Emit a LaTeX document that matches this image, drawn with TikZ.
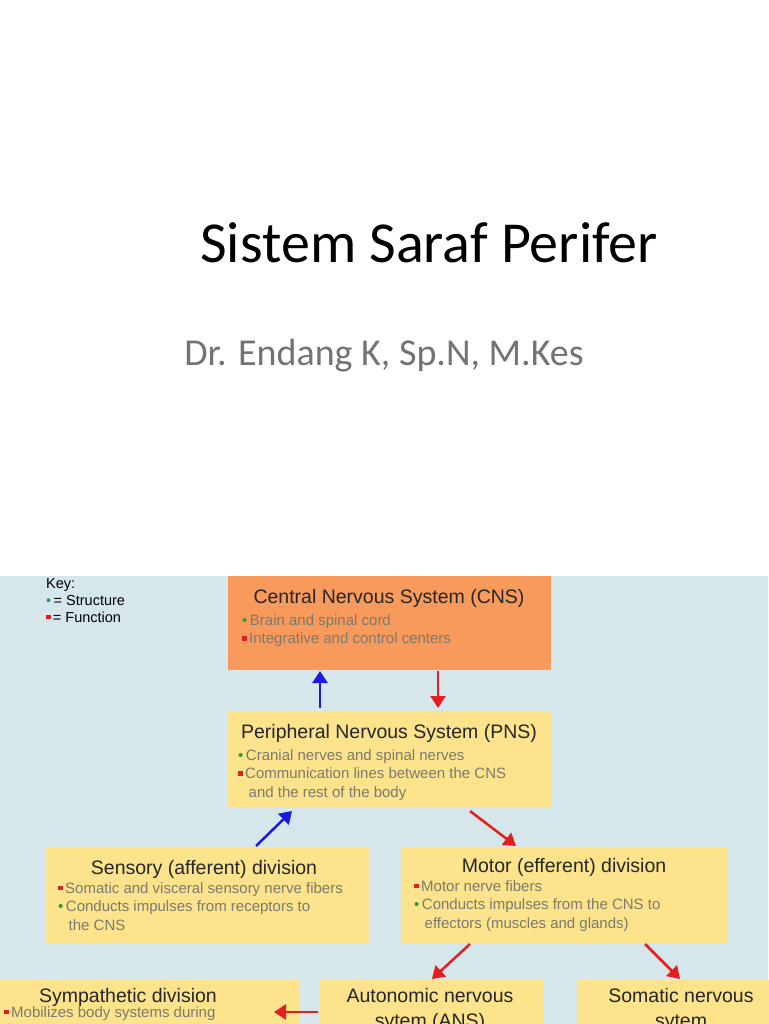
\documentclass[tikz,border=0pt]{standalone}
\usepackage{fontspec}
\setmainfont{Liberation Sans}
\newfontfamily\calib{Carlito}
\usetikzlibrary{arrows.meta}
\definecolor{panel}{HTML}{D5E7EB}
\definecolor{orng}{HTML}{F89A5C}
\definecolor{yel}{HTML}{FCE38C}
\definecolor{btxt}{HTML}{7A7A6E}
\definecolor{gdot}{HTML}{2E9A3A}
\definecolor{rdot}{HTML}{E02020}
\definecolor{ablue}{HTML}{1A1AE0}
\definecolor{ared}{HTML}{E41E1E}
\tikzset{
 box/.style={inner sep=0pt},
 ttl/.style={font=\fontsize{19.5}{22}\selectfont, text=black!85, anchor=north, inner sep=0pt},
 blt/.style={font=\fontsize{15}{18.5}\selectfont, text=btxt, anchor=north west, align=left, inner sep=0pt},
 rarr/.style={draw=ared, line width=2.5pt, -{Triangle[length=12pt,width=15pt]}},
 barr/.style={draw=ablue, line width=2.5pt, -{Triangle[length=12pt,width=15pt]}},
}
\newcommand{\gd}{\textcolor{gdot}{\textbullet}\,}
\newcommand{\rd}{\textcolor{rdot}{\rule[0.2em]{0.3em}{0.3em}}\,}
\begin{document}
\begin{tikzpicture}[x=1pt,y=-1pt]
\useasboundingbox (0,0) rectangle (768,1024);
\fill[white] (0,0) rectangle (768,576);
\fill[panel] (0,576) rectangle (768,1024);
\node[font=\calib\fontsize{58}{64}\selectfont] (title) at (429,243) {Sistem Saraf Perifer};
\node[font=\calib\fontsize{38}{44}\selectfont, text=black!55] (sub) at (384,356) {Dr. Endang K, Sp.N, M.Kes};
% key
\node[anchor=north west, align=left, inner sep=0pt, font=\fontsize{14.5}{17}\selectfont] (key) at (46,578) {Key:\\ \gd= Structure\\ \rd= Function};
% boxes
\fill[orng] (228,576) rectangle (551,670);
\node[ttl] (cnst) at (389,589) {Central Nervous System (CNS)};
\node[blt] (cnsb) at (242,614) {\gd Brain and spinal cord\\ \rd Integrative and control centers};
\fill[yel] (228,711) rectangle (551,808);
\node[ttl] (pnst) at (389,724) {Peripheral Nervous System (PNS)};
\node[blt] (pnsb) at (238,749) {\gd Cranial nerves and spinal nerves\\ \rd Communication lines between the CNS\\ \hspace*{0.7em}and the rest of the body};
\fill[yel] (46,848) rectangle (369,943);
\node[ttl] (sent) at (204,860) {Sensory (afferent) division};
\node[blt] (senb) at (58,882) {\rd Somatic and visceral sensory nerve fibers\\ \gd Conducts impulses from receptors to\\ \hspace*{0.7em}the CNS};
\fill[yel] (402,848) rectangle (727,943);
\node[ttl] (mott) at (564,858) {Motor (efferent) division};
\node[blt] (motb) at (414,880) {\rd Motor nerve fibers\\ \gd Conducts impulses from the CNS to\\ \hspace*{0.7em}effectors (muscles and glands)};
\fill[yel] (-5,980) rectangle (300,1030);
\node[ttl] (symt) at (128,988) {Sympathetic division};
\node[blt] (symb) at (4,1006) {\rd Mobilizes body systems during};
\fill[yel] (320,980) rectangle (543,1030);
\node[ttl, align=center, font=\fontsize{19.5}{25}\selectfont] (anst) at (430,988) {Autonomic nervous\\ sytem (ANS)};
\fill[yel] (578,980) rectangle (775,1030);
\node[ttl, align=center, font=\fontsize{19.5}{25}\selectfont] (somt) at (681,988) {Somatic nervous\\ sytem};
% arrows
\coordinate (a1) at (320,708); \coordinate (a2) at (320,671);
\coordinate (b1) at (438,671); \coordinate (b2) at (438,708);
\draw[barr] (a1) -- (a2);
\draw[rarr] (b1) -- (b2);
\coordinate (c1) at (256,846); \coordinate (c2) at (292,811);
\coordinate (d1) at (470,811); \coordinate (d2) at (516,846);
\draw[barr] (c1) -- (c2);
\draw[rarr] (d1) -- (d2);
\coordinate (e1) at (470,944); \coordinate (e2) at (432,979);
\coordinate (f1) at (645,944); \coordinate (f2) at (680,979);
\coordinate (g1) at (318,1012); \coordinate (g2) at (274,1012);
\draw[rarr] (e1) -- (e2);
\draw[rarr] (f1) -- (f2);
\draw[rarr] (g1) -- (g2);
\end{tikzpicture}
\end{document}
